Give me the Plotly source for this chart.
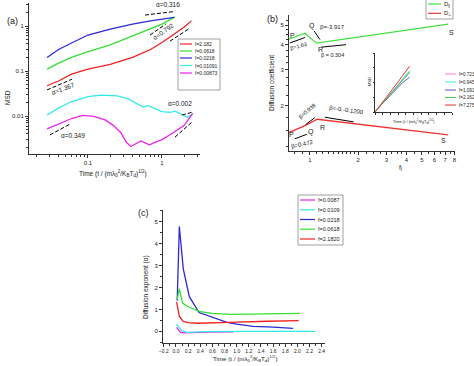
import numpy as np
import plotly.graph_objects as go

W, H = 474, 366
FONT = "Liberation Sans, Arial, sans-serif"
INK = "#222222"


def px(x):
    return x / W


def py(y):
    return 1 - y / H


# ---------------- panel (a): MSD vs time (log-log) ----------------
a_labels = ["f=2.182", "f=0.0618", "f=0.0218", "f=0.01091", "f=0.00873"]
a_colors = ["#f22020", "#33e033", "#2a2ad4", "#33eaea", "#ee22ee"]

a_t_red = [0.028, 0.04, 0.06, 0.1, 0.2, 0.4, 0.7, 1.0, 1.5, 2.0, 2.5]
a_msd_red = [0.047, 0.06, 0.085, 0.11, 0.14, 0.2, 0.3, 0.43, 0.68, 0.95, 1.3]
a_t_green = [0.028, 0.04, 0.06, 0.1, 0.2, 0.4, 0.7, 1.0, 1.5]
a_msd_green = [0.11, 0.15, 0.2, 0.27, 0.38, 0.6, 0.88, 1.1, 1.6]
a_t_blue = [0.028, 0.04, 0.06, 0.1, 0.2, 0.4, 0.7, 1.0, 1.46]
a_msd_blue = [0.2, 0.3, 0.42, 0.63, 0.85, 1.1, 1.3, 1.4, 1.55]
a_t_cyan = [0.028, 0.04, 0.06, 0.1, 0.15, 0.25, 0.35, 0.45, 0.55, 0.65, 0.8, 1.0,
            1.3, 1.5, 1.8, 2.2, 2.6]
a_msd_cyan = [0.0105, 0.015, 0.021, 0.027, 0.029, 0.028, 0.024, 0.019, 0.016, 0.017,
              0.0145, 0.0125, 0.012, 0.0128, 0.0112, 0.0094, 0.011]
a_t_mag = [0.028, 0.04, 0.06, 0.085, 0.12, 0.17, 0.22, 0.28, 0.33, 0.38, 0.45, 0.52,
           0.6, 0.68, 0.8, 1.0, 1.4, 2.0, 2.6]
a_msd_mag = [0.0052, 0.0067, 0.0088, 0.0103, 0.0098, 0.0082, 0.0062, 0.0042, 0.0026,
             0.0021, 0.0025, 0.0028, 0.0025, 0.0023, 0.0026, 0.003, 0.0042, 0.0062, 0.0115]

a_series = [
    (a_t_red, a_msd_red),
    (a_t_green, a_msd_green),
    (a_t_blue, a_msd_blue),
    (a_t_cyan, a_msd_cyan),
    (a_t_mag, a_msd_mag),
]

# slope guides (x0, y0, x1, y1) and labels (text, x, y, angle)
a_guides = [
    (0.59, 1.75, 1.41, 2.08),
    (0.69, 0.63, 1.13, 1.11),
    (1.28, 0.46, 2.39, 0.90),
    (0.028, 0.038, 0.061, 0.066),
    (1.86, 0.0105, 2.63, 0.0123),
    (0.0306, 0.0038, 0.057, 0.0066),
    (1.5, 0.0034, 2.63, 0.0077),
]
a_notes = [
    ("α=0.316", 1.2, 3.0, 0),
    ("α=0.792", 1.03, 0.77, -35),
    ("α=0.549", 3.5, 0.95, -35),
    ("α=1.367", 0.046, 0.040, -20),
    ("α=0.002", 1.75, 0.0185, 0),
    ("α=0.349", 0.062, 0.0036, 0),
    ("α=0.005", 3.47, 0.0042, 0),
]

# ---------------- panel (b): diffusion coefficients vs f_l ----------------
b_labels = ["D<sub>∥</sub>", "D<sub>⊥</sub>"]
b_colors = ["#44dd44", "#ee3333"]
b_f_par = [0.74, 0.93, 1.1, 7.3]
b_d_par = [4.26, 4.56, 4.07, 5.06]
b_f_perp = [0.74, 0.93, 1.11, 7.3]
b_d_perp = [1.47, 1.59, 1.71, 1.43]

b_guides = [
    (0.75, 4.08, 0.93, 4.34),
    (1.06, 4.68, 1.155, 4.24),
    (1.18, 3.89, 1.68, 4.0),
    (0.806, 1.37, 0.954, 1.44),
    (0.94, 1.61, 1.07, 1.74),
    (1.24, 1.75, 1.87, 1.66),
]
b_notes = [
    ("P", 0.78, 4.46, 0, 7), ("β=1.63", 0.85, 3.93, -15, 5.5),
    ("Q", 1.03, 4.94, 0, 7), ("β=-3.917", 1.39, 4.89, 0, 6),
    ("R", 1.17, 3.79, 0, 7), ("β = 0.304", 1.39, 3.54, 0, 5.5),
    ("S", 7.7, 4.61, 0, 7),
    ("P", 0.77, 1.43, 0, 7), ("β=0.472", 0.9, 1.29, -12, 6),
    ("Q", 1.01, 1.48, 0, 7), ("β=0.938", 0.96, 1.88, -40, 5.5),
    ("R", 1.19, 1.56, 0, 7), ("β=-0.-0.1200", 1.70, 1.90, 8, 6),
    ("S", 6.78, 1.35, 0, 7),
]

# inset of (b)
in_labels = ["f=0.723", "f=0.945", "f=1.091", "f=2.162", "f=7.275"]
in_colors = ["#ff77dd", "#33eedd", "#5555cc", "#44cc44", "#ee3333"]
in_t = [0, 0.3, 0.7, 1.2, 1.8, 2.4, 3.0, 3.6, 4.2, 4.5]
in_msd = [
    [0, 0.1, 0.22, 0.37, 0.55, 0.73, 0.92, 1.09, 1.25, 1.33],
    [0, 0.1, 0.22, 0.37, 0.55, 0.74, 0.94, 1.12, 1.30, 1.40],
    [0, 0.1, 0.21, 0.35, 0.52, 0.69, 0.86, 1.0, 1.12, 1.18],
    [0, 0.1, 0.22, 0.37, 0.55, 0.74, 0.93, 1.1, 1.27, 1.36],
    [0, 0.1, 0.22, 0.38, 0.58, 0.8, 1.02, 1.24, 1.44, 1.55],
]

# ---------------- panel (c): diffusion exponent vs time ----------------
c_labels = ["f=0.0087", "f=0.0109", "f=0.0218", "f=0.0618", "f=2.1820"]
c_colors = ["#ee22ee", "#33eaea", "#2a2ad4", "#33e033", "#f22020"]
c_t_mag = [0.01, 0.075, 0.14, 0.28, 0.5, 0.95]
c_a_mag = [0.18, -0.05, -0.07, -0.05, -0.03, -0.02]
c_t_cyan = [0.01, 0.05, 0.094, 0.18, 0.3, 0.5, 1.0, 1.5, 2.3]
c_a_cyan = [0.33, 0.2, 0.03, -0.05, -0.03, -0.01, 0.0, 0.0, 0.0]
c_t_blue = [0.02, 0.055, 0.12, 0.22, 0.38, 0.6, 0.84, 1.0, 1.27, 1.6, 1.93]
c_a_blue = [1.4, 4.78, 2.85, 1.58, 0.86, 0.64, 0.41, 0.33, 0.23, 0.19, 0.14]
c_t_green = [0.02, 0.055, 0.11, 0.2, 0.4, 0.6, 0.9, 1.5, 2.05]
c_a_green = [1.46, 1.95, 1.28, 1.12, 0.9, 0.82, 0.77, 0.78, 0.82]
c_t_red = [0.01, 0.055, 0.12, 0.2, 0.35, 0.6, 1.0, 1.5, 2.02]
c_a_red = [1.34, 0.68, 0.45, 0.4, 0.37, 0.38, 0.42, 0.46, 0.49]
c_series = [
    (c_t_mag, c_a_mag),
    (c_t_cyan, c_a_cyan),
    (c_t_blue, c_a_blue),
    (c_t_green, c_a_green),
    (c_t_red, c_a_red),
]

fig = go.Figure()

for (t, m), c, lab in zip(a_series, a_colors, a_labels):
    fig.add_trace(go.Scatter(x=t, y=m, mode="lines", name=lab, showlegend=False,
                             line=dict(color=c, width=1.3), xaxis="x", yaxis="y"))
for g in a_guides:
    fig.add_trace(go.Scatter(x=[g[0], g[2]], y=[g[1], g[3]], mode="lines", showlegend=False,
                             line=dict(color="black", width=1, dash="4px,2px"),
                             xaxis="x", yaxis="y", hoverinfo="skip"))

fig.add_trace(go.Scatter(x=b_f_par, y=b_d_par, mode="lines", showlegend=False,
                         line=dict(color=b_colors[0], width=1.3), xaxis="x2", yaxis="y2"))
fig.add_trace(go.Scatter(x=b_f_perp, y=b_d_perp, mode="lines", showlegend=False,
                         line=dict(color=b_colors[1], width=1.3), xaxis="x2", yaxis="y2"))
for g in b_guides:
    fig.add_trace(go.Scatter(x=[g[0], g[2]], y=[g[1], g[3]], mode="lines", showlegend=False,
                             line=dict(color="black", width=1), xaxis="x2", yaxis="y2",
                             hoverinfo="skip"))

for m, c, lab in zip(in_msd, in_colors, in_labels):
    fig.add_trace(go.Scatter(x=in_t, y=m, mode="lines", name=lab, showlegend=False,
                             line=dict(color=c, width=1), xaxis="x3", yaxis="y3"))

for (t, a), c, lab in zip(c_series, c_colors, c_labels):
    fig.add_trace(go.Scatter(x=t, y=a, mode="lines", name=lab, showlegend=False,
                             line=dict(color=c, width=1.3), xaxis="x4", yaxis="y4"))

axis_common = dict(showline=True, linecolor="#333333", linewidth=1, ticks="outside",
                   ticklen=3, tickwidth=1, tickcolor="#333333", showgrid=False,
                   zeroline=False, tickangle=0, tickfont=dict(size=6, color=INK, family=FONT))


def minor(vals, ln=1.8):
    return dict(tickmode="array", tickvals=vals, ticks="outside", ticklen=ln,
                tickcolor="#333333", showgrid=False)


a_minor_x = [v * d for d in (0.01, 0.1, 1) for v in range(2, 10)]
a_minor_y = [v * d for d in (0.001, 0.01, 0.1, 1) for v in range(2, 10)]
b_minor_x = [0.8, 0.9] + [1 + 0.1 * i for i in range(1, 10)] + [2.25, 2.5, 2.75, 3.25, 3.5, 3.75, 4.5, 5.5, 6.5, 7.5]
b_minor_y = [1.25, 1.5, 1.75, 2.25, 2.5, 2.75, 3.25, 3.5, 3.75, 4.25, 4.5, 4.75, 5.25]

fig.update_layout(
    width=W, height=H,
    margin=dict(l=0, r=0, t=0, b=0, autoexpand=False),
    paper_bgcolor="white", plot_bgcolor="white",
    font=dict(family=FONT, color=INK, size=6),
    showlegend=False,
    xaxis=dict(axis_common, type="log", range=[-1.797, 0.514], domain=[px(29), px(200)],
               anchor="y", tickvals=[0.1, 1], ticktext=["0.1", "1"], minor=minor(a_minor_x)),
    yaxis=dict(axis_common, type="log", range=[-2.844, 0.511], domain=[py(154), py(3)],
               anchor="x", tickvals=[0.01, 0.1, 1], ticktext=["0.01", "0.1", "1"],
               minor=minor(a_minor_y)),
    xaxis2=dict(axis_common, type="log", range=[-0.131, 0.906], domain=[px(289), px(455)],
                anchor="y2", tickvals=list(range(1, 9)), ticktext=[str(i) for i in range(1, 9)],
                minor=minor(b_minor_x)),
    yaxis2=dict(axis_common, type="log", range=[0.076, 0.749], domain=[py(151), py(15)],
                anchor="x2", tickvals=[2, 3, 4, 5], ticktext=["2", "3", "4", "5"],
                minor=minor(b_minor_y)),
    xaxis3=dict(axis_common, range=[0, 10], dtick=1, ticklen=1.5, domain=[px(375), px(452)],
                anchor="y3", showticklabels=False),
    yaxis3=dict(axis_common, range=[0, 2], dtick=0.5, ticklen=1.5, domain=[py(112), py(53)],
                anchor="x3", showticklabels=False),
    xaxis4=dict(axis_common, range=[-0.214, 2.455], tick0=0, dtick=0.2, tickformat=".1f",
                domain=[px(163), px(325)], anchor="y4", ticklen=2.5,
                tickfont=dict(size=5, color=INK, family=FONT),
                minor=dict(dtick=0.1, ticks="outside", ticklen=1.6, tickcolor="#333333")),
    yaxis4=dict(axis_common, range=[-0.53, 5.53], tick0=0, dtick=1, domain=[py(343), py(210)],
                anchor="x4",
                minor=dict(dtick=0.5, ticks="outside", ticklen=1.8, tickcolor="#333333")),
)

ann = []
shapes = []


def text_px(txt, x, y, size=6.5, angle=0, xanchor="center", yanchor="middle"):
    ann.append(dict(text=txt, x=px(x), y=py(y), xref="paper", yref="paper", showarrow=False,
                    textangle=angle, xanchor=xanchor, yanchor=yanchor,
                    font=dict(size=size, color=INK, family=FONT)))


# panel labels and axis titles
time_title = "Time (t / (mλ<sub>0</sub><sup>2</sup>/K<sub>B</sub>T<sub>d</sub>)<sup>1/2</sup>)"
text_px("(a)", 12, 21, 9)
text_px("MSD", 8, 97, 6.5, -90)
text_px(time_title, 113, 173, 6.5)
text_px("(b)", 272, 19, 9)
text_px("Diffusion coefficient", 271, 83, 6.5, -90)
text_px("f<sub>l</sub>", 400, 168, 7)
text_px("(c)", 143, 213, 9)
text_px("Diffusion exponent (α)", 146, 287, 6.5, -90)
text_px(time_title, 245, 365, 6.2, yanchor="bottom")
text_px("MSD", 369, 82, 4, -90)
text_px(time_title, 414, 121, 4)

# slope labels
for txt, x, y, ang in a_notes:
    ann.append(dict(text=txt, x=np.log10(x), y=np.log10(y), xref="x", yref="y",
                    showarrow=False, textangle=ang,
                    font=dict(size=6.5, color=INK, family=FONT)))
for txt, x, y, ang, sz in b_notes:
    ann.append(dict(text=txt, x=np.log10(x), y=np.log10(y), xref="x2", yref="y2",
                    showarrow=False, textangle=ang,
                    font=dict(size=sz, color=INK, family=FONT)))


def legend_box(x0, y0, x1, y1, rows, lx0, lx1, tx, labels, colors, size, box=True, lw=1.2):
    if box:
        shapes.append(dict(type="rect", xref="paper", yref="paper", x0=px(x0), x1=px(x1),
                           y0=py(y1), y1=py(y0), line=dict(color="#888888", width=0.8),
                           fillcolor="white", layer="above"))
    for r, lab, c in zip(rows, labels, colors):
        shapes.append(dict(type="line", xref="paper", yref="paper", x0=px(lx0), x1=px(lx1),
                           y0=py(r), y1=py(r), line=dict(color=c, width=lw), layer="above"))
        text_px(lab, tx, r, size, 0, "left")


legend_box(178, 39, 220, 90, [44, 51, 58, 65.5, 73], 180, 192, 193, a_labels, a_colors, 5)
legend_box(426, -6, 453, 19, [4, 13.3], 428, 441, 442, b_labels, b_colors, 6)
legend_box(0, 0, 0, 0, [74, 82, 90, 97.5, 105], 445, 456, 457, in_labels, in_colors, 4.6,
           box=False, lw=1)
legend_box(298, 195, 343, 245, [200, 209.8, 219.5, 229.2, 239], 300, 315, 316, c_labels,
           c_colors, 5.5)

fig.update_layout(annotations=ann, shapes=shapes)
fig.write_html("out.html", config={"displayModeBar": False},
               post_script="document.body.style.margin='0';document.body.style.overflow='hidden';")
